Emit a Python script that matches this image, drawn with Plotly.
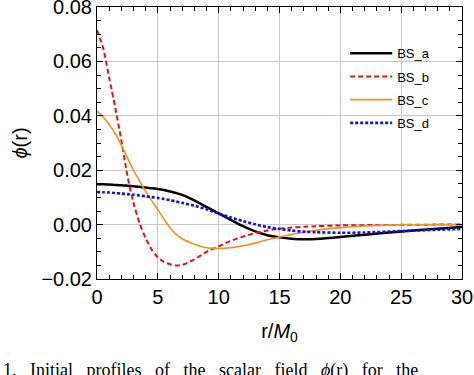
import plotly.graph_objects as go

r = [0, 0.5, 1, 1.5, 2, 2.5, 3, 3.5, 4, 4.5, 5, 5.5, 6, 6.5, 7, 8, 9, 10,
     11, 12, 13, 14, 15, 16, 17, 18, 20, 22, 25, 28, 30]

bs_a = [0.0148, 0.0148, 0.0147, 0.0146, 0.0145, 0.0143, 0.0141, 0.0139, 0.0136, 0.0134,
        0.0131, 0.0127, 0.0122, 0.0116, 0.0109, 0.0089, 0.0065, 0.0041,
        0.0017, -0.0006, -0.0025, -0.0039, -0.0047, -0.0052, -0.0054, -0.0053,
        -0.0046, -0.0037, -0.0025, -0.0015, -0.0009]

bs_b = [0.0715, 0.0650, 0.0540, 0.0430, 0.0310, 0.0180, 0.0080, 0.0005, -0.0050, -0.0092,
        -0.0120, -0.0137, -0.0146, -0.0150, -0.0148, -0.0128, -0.0100, -0.0080,
        -0.0060, -0.0044, -0.0031, -0.0022, -0.0015, -0.0011, -0.0008, -0.0006,
        -0.0003, -0.0002, -0.0001, 0.0000, 0.0000]

bs_c = [0.0417, 0.0396, 0.0368, 0.0335, 0.0292, 0.0245, 0.0200, 0.0160, 0.0122, 0.0088,
        0.0055, 0.0020, -0.0012, -0.0035, -0.0052, -0.0072, -0.0085, -0.0088,
        -0.0085, -0.0078, -0.0068, -0.0056, -0.0046, -0.0036, -0.0028, -0.0021,
        -0.0011, -0.0005, -0.0001, 0.0000, 0.0000]

bs_d = [0.0120, 0.0119, 0.0118, 0.0116, 0.0114, 0.0112, 0.0110, 0.0107, 0.0104, 0.0101,
        0.0098, 0.0094, 0.0090, 0.0085, 0.0080, 0.0070, 0.0056, 0.0041,
        0.0026, 0.0013, 0.0001, -0.0009, -0.0016, -0.0022, -0.0026, -0.0028,
        -0.0030, -0.0029, -0.0024, -0.0019, -0.0016]

x_ticks = [0, 5, 10, 15, 20, 25, 30]
y_ticks = [-0.02, 0.00, 0.02, 0.04, 0.06, 0.08]

series = [
    ("BS_a", bs_a, "#000000", "solid", 2.5),
    ("BS_b", bs_b, "#e8101e", "5px,3px", 2.0),
    ("BS_c", bs_c, "#f7901e", "solid", 1.6),
    ("BS_d", bs_d, "#1010f0", "3px,2px", 2.6),
]

fig = go.Figure()
for i, (name, ys, col, dash, w) in enumerate(series):
    fig.add_trace(go.Scatter(
        x=r, y=ys, name=name, mode="lines", legendgroup=name,
        line=dict(color=col, dash=dash, width=w, shape="spline", smoothing=0.7),
    ))

axis_common = dict(
    showline=True, linecolor="black", linewidth=1, mirror="allticks",
    ticks="inside", ticklen=6, tickcolor="black", tickwidth=1,
    showgrid=True, gridcolor="#c8c8c8", gridwidth=1, zeroline=False,
    automargin=False, ticklabeloverflow="allow",
    tickfont=dict(family="Liberation Sans", size=20, color="black"),
)

fig.update_xaxes(
    range=[0, 30], tickvals=x_ticks,
    minor=dict(dtick=1, ticks="inside", ticklen=4, tickcolor="black", showgrid=False),
    title=dict(text="r/<i>M</i><sub>0</sub>",
               font=dict(family="Liberation Sans", size=20, color="black"), standoff=16),
    **axis_common,
)
fig.update_yaxes(
    range=[-0.02, 0.08], tickvals=y_ticks, tickformat=".2f",
    minor=dict(dtick=0.005, ticks="inside", ticklen=4, tickcolor="black", showgrid=False),
    title=dict(text="<i>ϕ</i>(r)",
               font=dict(family="Liberation Sans", size=20, color="black"), standoff=8),
    **axis_common,
)

nb = "\u00a0"
sp = nb * 3
caption = sp.join(["1.", "Initial", "profiles", "of", "the", "scalar", "field",
                   "<i>ϕ</i>(r)", "for", "the"])

fig.update_layout(
    width=474, height=375,
    margin=dict(l=97, r=12, t=7, b=96),
    plot_bgcolor="white", paper_bgcolor="white",
    showlegend=True,
    legend=dict(
        x=0.68, y=0.885, xanchor="left", yanchor="top",
        bgcolor="rgba(0,0,0,0)", borderwidth=0,
        font=dict(family="Liberation Sans", size=13, color="black"),
        traceorder="grouped", tracegroupgap=3.3, itemwidth=42,
    ),
    annotations=[dict(
        text=caption,
        xref="paper", yref="paper", x=-0.262, y=-0.383, xanchor="left", yanchor="bottom",
        showarrow=False,
        font=dict(family="Liberation Serif", size=18, color="black"),
    )],
)

fig.write_html(
    "out.html",
    config={"displayModeBar": False},
    post_script="document.body.style.margin='0';document.body.style.overflow='hidden';",
)
